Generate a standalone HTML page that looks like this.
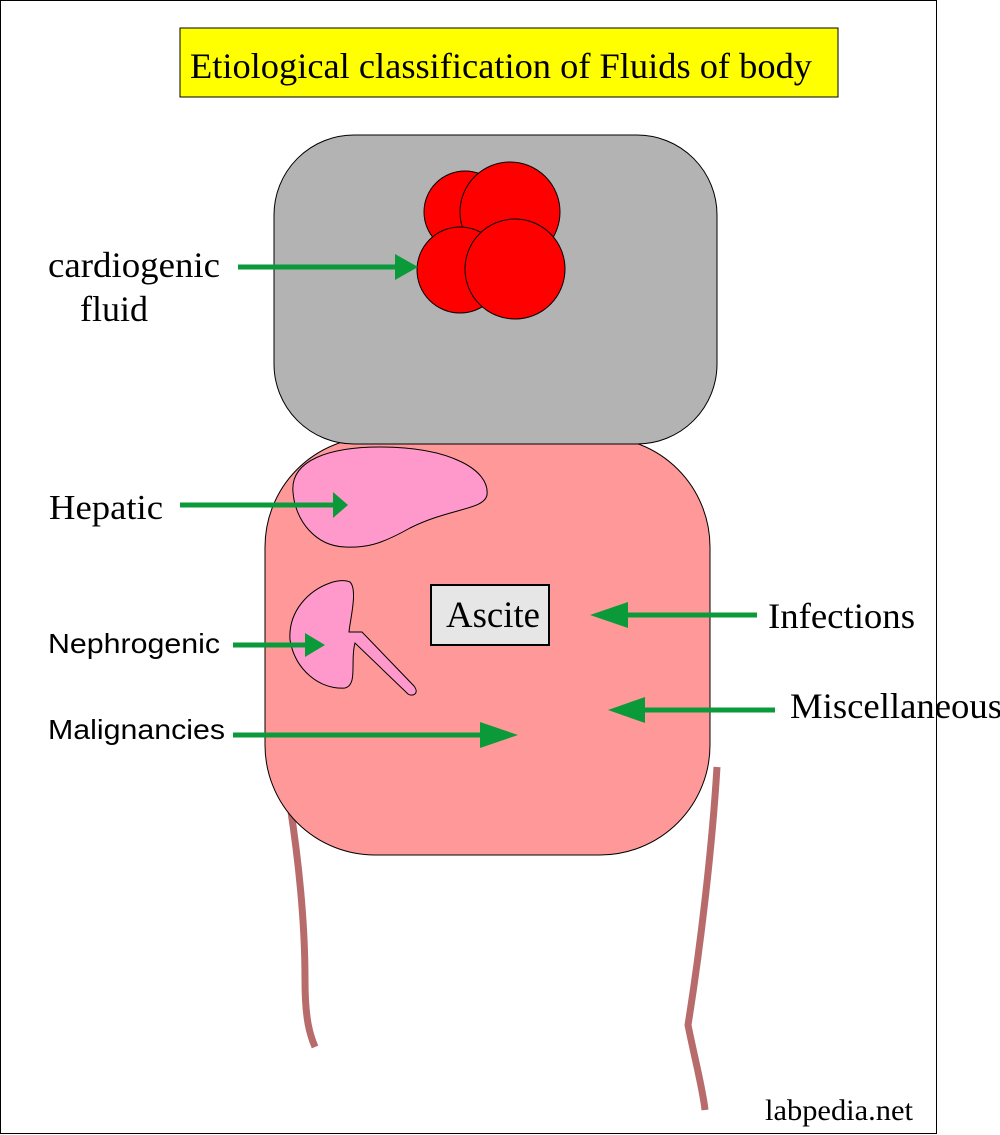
<!DOCTYPE html>
<html><head><style>body{margin:0;background:#fff}svg{display:block}</style></head><body>
<svg width="1000" height="1135" viewBox="0 0 1000 1135" xmlns="http://www.w3.org/2000/svg" font-family="Liberation Serif, serif">
<rect x="0.5" y="0.5" width="936" height="1133" fill="#fff" stroke="#000" stroke-width="1"/>
<rect x="180" y="28" width="658" height="69" fill="#ffff00" stroke="#000" stroke-width="1"/>
<text x="501" y="78" font-size="36" text-anchor="middle" textLength="622" lengthAdjust="spacingAndGlyphs">Etiological classification of Fluids of body</text>
<path d="M290,805 C300,870 305,930 305,980 C305,1020 310,1035 315,1047" fill="none" stroke="#b86b6b" stroke-width="7"/>
<path d="M717,767 C712,850 700,950 688,1025 C695,1060 703,1090 705,1110" fill="none" stroke="#b86b6b" stroke-width="7"/>
<rect x="265" y="437" width="445" height="418" rx="110" fill="#ff9999" stroke="#000" stroke-width="1"/>
<rect x="274" y="135" width="443" height="309" rx="80" fill="#b3b3b3" stroke="#000" stroke-width="1"/>
<g fill="#ff0000" stroke="#000" stroke-width="1">
<circle cx="465" cy="212" r="41"/>
<circle cx="510" cy="212" r="50"/>
<circle cx="460" cy="270" r="43"/>
<circle cx="515" cy="269" r="50"/>
</g>
<path d="M293,492 C290,460 330,447 380,447 C450,447 490,470 487,495 C484,510 450,508 410,528 C380,545 365,548 345,547 C315,546 295,520 293,492z" fill="#ff99cc" stroke="#000" stroke-width="1"/>
<path d="M350,582 C358,590 350,620 349,632 L362,632 L414,686 C420,694 412,697 408,694 L355,643 C350,660 358,685 345,688 C320,690 295,670 290,640 C288,610 310,590 330,583 C338,580 346,580 350,582z" fill="#ff99cc" stroke="#000" stroke-width="1"/>
<rect x="431" y="585" width="118" height="60" fill="#e6e6e6" stroke="#000" stroke-width="2"/>
<text x="446" y="627" font-size="37" textLength="94" lengthAdjust="spacingAndGlyphs">Ascite</text>
<g stroke="#0a9a3a" stroke-width="5" fill="none">
<line x1="238" y1="267" x2="398" y2="267"/>
<line x1="180" y1="505" x2="335" y2="505"/>
<line x1="233" y1="645" x2="308" y2="645"/>
<line x1="233" y1="735" x2="482" y2="735"/>
<line x1="757" y1="615" x2="626" y2="615"/>
<line x1="775" y1="710" x2="643" y2="710"/>
</g>
<g fill="#0a9a3a">
<path d="M395,254 L418,267 L395,280z"/>
<path d="M333,492 L348,505 L333,518z"/>
<path d="M305,633 L325,645 L305,657z"/>
<path d="M480,722 L518,735 L480,748z"/>
<path d="M628,602 L590,615 L628,628z"/>
<path d="M645,697 L608,710 L645,723z"/>
</g>
<text x="48" y="277" font-size="36" textLength="172" lengthAdjust="spacingAndGlyphs">cardiogenic</text>
<text x="80" y="321" font-size="36">fluid</text>
<text x="49" y="519" font-size="35" textLength="114" lengthAdjust="spacingAndGlyphs">Hepatic</text>
<text x="48" y="653" font-size="28" font-family="Liberation Sans, sans-serif" textLength="172" lengthAdjust="spacingAndGlyphs">Nephrogenic</text>
<text x="48" y="739" font-size="28" font-family="Liberation Sans, sans-serif" textLength="177" lengthAdjust="spacingAndGlyphs">Malignancies</text>
<text x="768" y="628" font-size="36" textLength="147" lengthAdjust="spacingAndGlyphs">Infections</text>
<text x="790" y="718" font-size="36" textLength="212" lengthAdjust="spacingAndGlyphs">Miscellaneous</text>
<text x="765" y="1120" font-size="30" textLength="148" lengthAdjust="spacingAndGlyphs">labpedia.net</text>
</svg>
</body></html>
